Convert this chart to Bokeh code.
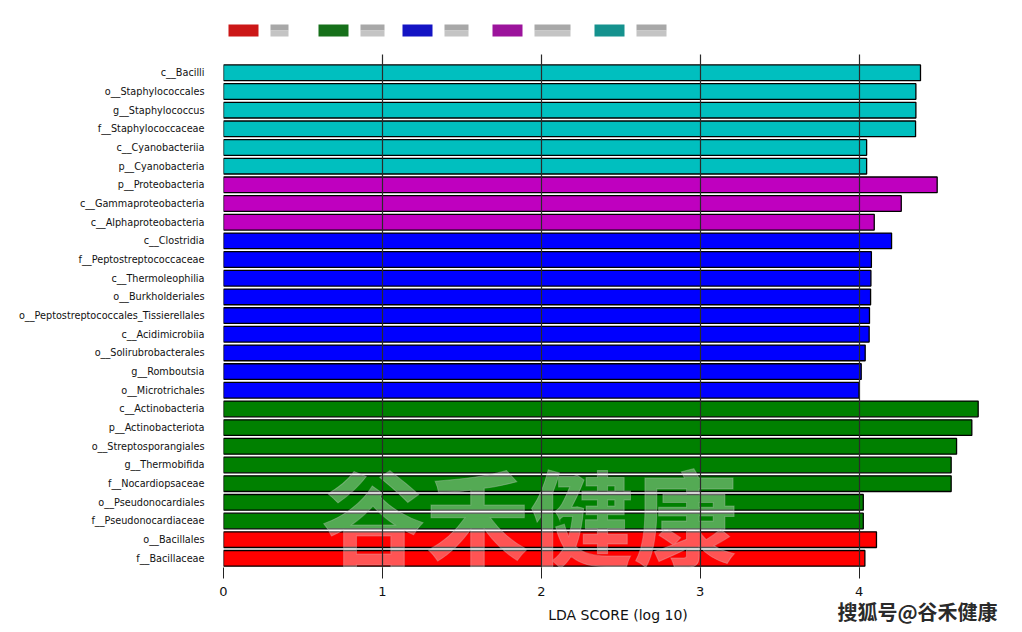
from bokeh.plotting import figure
from bokeh.models import FixedTicker, Range1d, Label, ColumnDataSource
from bokeh.layouts import column
from bokeh.embed import file_html
from bokeh.resources import INLINE

# ---- data (top to bottom as in the chart) ----
taxa = [
    "c__Bacilli", "o__Staphylococcales", "g__Staphylococcus", "f__Staphylococcaceae",
    "c__Cyanobacteriia", "p__Cyanobacteria",
    "p__Proteobacteria", "c__Gammaproteobacteria", "c__Alphaproteobacteria",
    "c__Clostridia", "f__Peptostreptococcaceae", "c__Thermoleophilia", "o__Burkholderiales",
    "o__Peptostreptococcales_Tissierellales", "c__Acidimicrobiia", "o__Solirubrobacterales",
    "g__Romboutsia", "o__Microtrichales",
    "c__Actinobacteria", "p__Actinobacteriota", "o__Streptosporangiales", "g__Thermobifida",
    "f__Nocardiopsaceae", "o__Pseudonocardiales", "f__Pseudonocardiaceae",
    "o__Bacillales", "f__Bacillaceae",
]
lda = [
    4.386, 4.357, 4.357, 4.355,
    4.047, 4.047,
    4.491, 4.265, 4.095,
    4.204, 4.077, 4.074, 4.072,
    4.065, 4.063, 4.038,
    4.013, 3.999,
    4.749, 4.709, 4.613, 4.579,
    4.579, 4.026, 4.026,
    4.109, 4.036,
]
group = (["cyan"] * 6 + ["magenta"] * 3 + ["blue"] * 9 + ["green"] * 7 + ["red"] * 2)
group_colors = {"red": "#FF0000", "green": "#008000", "blue": "#0000FF",
                "magenta": "#BF00BF", "cyan": "#00BFBF"}
legend_order = ["red", "green", "blue", "magenta", "cyan"]
legend_swatch = {"red": "#cc1717", "green": "#16701a", "blue": "#1414c4",
                 "magenta": "#9c149c", "cyan": "#15928e"}
x_ticks = [0, 1, 2, 3, 4]
x_label = "LDA SCORE (log 10)"
credit = "搜狐号@谷禾健康"
watermark = "谷禾健康"

n = len(taxa)
ypos = [n - 1 - i for i in range(n)]
src = ColumnDataSource(dict(y=ypos, v=lda, c=[group_colors[g] for g in group]))

W = 1014
FRAME_L, FRAME_R = 223, 1012


def bare(fig):
    fig.axis.visible = False
    fig.grid.visible = False
    fig.outline_line_color = None


# ---- legend strip (labels are pixelated in the reference) ----
lg = figure(width=W, height=46, x_range=Range1d(FRAME_L, FRAME_R), y_range=Range1d(0, 46),
            output_backend="svg", toolbar_location=None, min_border=0,
            min_border_left=FRAME_L, min_border_right=W - FRAME_R)
bare(lg)
sw_x = [228, 318, 402, 492, 594]
txt_w = [18, 24, 24, 36, 30]
lg.rect(x=[s + 15 for s in sw_x], y=16, width=30, height=12,
        fill_color=[legend_swatch[g] for g in legend_order], line_color=None)
lg.rect(x=[s + 42 + w / 2 for s, w in zip(sw_x, txt_w)], y=19, width=txt_w, height=6,
        fill_color="#a8a8a8", line_color=None)
lg.rect(x=[s + 42 + w / 2 for s, w in zip(sw_x, txt_w)], y=13, width=txt_w, height=6,
        fill_color="#c4c4c4", line_color=None)

# ---- main chart ----
p = figure(width=W, height=552, output_backend="svg", toolbar_location=None,
           x_range=Range1d(0, 4.965), y_range=Range1d(-0.49, 26.98),
           min_border_left=FRAME_L, min_border_right=W - FRAME_R,
           min_border_top=8, min_border_bottom=0)
p.hbar(y="y", right="v", left=0, height=0.84, fill_color="c", line_color="black",
       line_width=1.3, source=src)

p.outline_line_color = None
p.ygrid.visible = False
p.xgrid.ticker = FixedTicker(ticks=x_ticks)
p.xgrid.grid_line_color = "#2a2a2a"
p.xgrid.grid_line_width = 1.2
p.xgrid.level = "overlay"

p.xaxis.ticker = FixedTicker(ticks=x_ticks)
p.xaxis.axis_line_color = None
p.xaxis.major_tick_out = 11
p.xaxis.major_tick_in = 0
p.xaxis.major_tick_line_color = "#222222"
p.xaxis.minor_tick_line_color = None
p.xaxis.major_label_standoff = 8
p.xaxis.major_label_text_font = "DejaVu Sans"
p.xaxis.major_label_text_font_size = "13px"
p.xaxis.major_label_text_color = "#111111"

p.yaxis.ticker = FixedTicker(ticks=ypos)
p.yaxis.major_label_overrides = {y: t for y, t in zip(ypos, taxa)}
p.yaxis.axis_line_color = None
p.yaxis.major_tick_line_color = None
p.yaxis.minor_tick_line_color = None
p.yaxis.major_tick_out = 0
p.yaxis.major_label_standoff = 19
p.yaxis.major_label_text_font = "DejaVu Sans"
p.yaxis.major_label_text_font_size = "9.7px"
p.yaxis.major_label_text_color = "#111111"

# large watermark (screen units are relative to the plot frame)
p.add_layout(Label(x=306, y=54, x_units="screen", y_units="screen", text=watermark,
                   text_font="Noto Sans CJK SC", text_font_style="bold", text_font_size="104px",
                   text_color="white", text_alpha=0.33, text_align="center",
                   text_baseline="middle", text_outline_color="#c8c8c8"))

# ---- bottom strip: x-axis title and credit line ----
bt = figure(width=W, height=30, x_range=Range1d(FRAME_L, FRAME_R), y_range=Range1d(0, 30),
            output_backend="svg", toolbar_location=None, min_border=0,
            min_border_left=FRAME_L, min_border_right=W - FRAME_R)
bare(bt)
bt.add_layout(Label(x=(FRAME_L + FRAME_R) / 2, y=14, text=x_label,
                    text_font="DejaVu Sans", text_font_size="14px", text_color="#111111",
                    text_align="center", text_baseline="middle"))
bt.add_layout(Label(x=917, y=17, text=credit,
                    text_font="Noto Sans CJK SC", text_font_style="bold", text_font_size="20px",
                    text_color="#2a2a2a", text_align="center", text_baseline="middle"))

layout = column(lg, p, bt, spacing=0)
open("out.html", "w").write(file_html(layout, INLINE))
